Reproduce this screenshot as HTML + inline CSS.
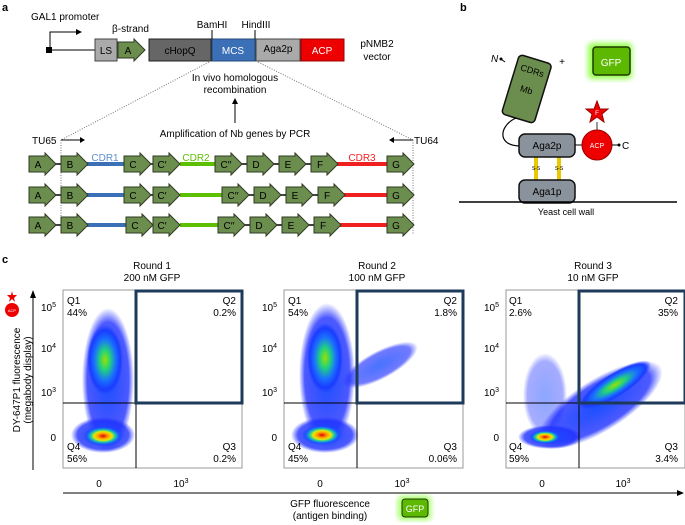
<!DOCTYPE html>
<html><head><meta charset="utf-8"><style>
body{margin:0;background:#fff}
svg{display:block;font-family:"Liberation Sans",sans-serif}
</style></head><body>
<svg width="685" height="525" viewBox="0 0 685 525" xmlns="http://www.w3.org/2000/svg">
<defs>
<g id="arr"><path d="M0,-8 H16 V-11 L27,0 L16,11 V8 H0 Z" fill="#6b8e4e" stroke="#2e3a22" stroke-width="1"/></g>
<radialGradient id="hot" cx="50%" cy="50%" r="50%">
<stop offset="0" stop-color="#e00000"/><stop offset="0.25" stop-color="#ff9900"/><stop offset="0.45" stop-color="#e8e800"/><stop offset="0.6" stop-color="#20d0a0"/><stop offset="0.8" stop-color="#1a5cff"/><stop offset="1" stop-color="#1a3cff" stop-opacity="0"/></radialGradient>
<radialGradient id="grn" cx="50%" cy="50%" r="50%">
<stop offset="0" stop-color="#9ae000"/><stop offset="0.3" stop-color="#20d080"/><stop offset="0.6" stop-color="#1a70ff"/><stop offset="0.85" stop-color="#1a3cff"/><stop offset="1" stop-color="#1a3cff" stop-opacity="0"/></radialGradient>
<radialGradient id="blu" cx="50%" cy="50%" r="50%">
<stop offset="0" stop-color="#1a50ff"/><stop offset="0.8" stop-color="#2030ff" stop-opacity="0.8"/><stop offset="1" stop-color="#2030ff" stop-opacity="0"/></radialGradient>
<filter id="glow"><feGaussianBlur stdDeviation="3"/></filter>
</defs>

<!-- panel a -->
<text x="2" y="11" font-size="11" font-weight="bold">a</text>
<text x="31" y="20" font-size="10">GAL1 promoter</text>
<text x="112" y="32" font-size="10">β-strand</text>
<line x1="50" y1="50" x2="95" y2="50" stroke="#000"/>
<rect x="46" y="47" width="6" height="6"/>
<path d="M50,50 V32 H80" fill="none" stroke="#000"/><path d="M76,29 L82,32 L76,35 Z"/>
<rect x="95" y="39" width="22" height="22" fill="#aaa" stroke="#444"/><text x="106" y="54" font-size="10" text-anchor="middle">LS</text>
<use href="#arr" x="118" y="50"/><text x="128" y="54" font-size="10" text-anchor="middle">A</text>
<rect x="149" y="39" width="62" height="22" fill="#666" stroke="#222"/><text x="180" y="54" font-size="10" text-anchor="middle">cHopQ</text>
<rect x="212" y="39" width="43" height="22" fill="#3b6fb6" stroke="#24487a"/><text x="233" y="54" font-size="10" text-anchor="middle" fill="#fff">MCS</text>
<rect x="256" y="39" width="44" height="22" fill="#aaa" stroke="#444"/><text x="278" y="52" font-size="10" text-anchor="middle">Aga2p</text>
<rect x="301" y="39" width="43" height="22" fill="#e00" stroke="#900"/><text x="322" y="54" font-size="10" text-anchor="middle" fill="#fff">ACP</text>
<text x="377" y="47" font-size="10" text-anchor="middle">pNMB2</text><text x="377" y="60" font-size="10" text-anchor="middle">vector</text>
<line x1="212" y1="30" x2="212" y2="39" stroke="#000"/><text x="212" y="28" font-size="10" text-anchor="middle">BamHI</text>
<line x1="255" y1="30" x2="255" y2="39" stroke="#000"/><text x="256" y="28" font-size="10" text-anchor="middle">HindIII</text>
<line x1="211" y1="61" x2="61" y2="140" stroke="#777" stroke-dasharray="1,1.5"/>
<line x1="256" y1="61" x2="413" y2="140" stroke="#777" stroke-dasharray="1,1.5"/>
<text x="235" y="81" font-size="10" text-anchor="middle">In vivo homologous</text><text x="235" y="93" font-size="10" text-anchor="middle">recombination</text>
<line x1="235" y1="123" x2="235" y2="101" stroke="#000"/><path d="M232,104 L235,98 L238,104Z"/>
<text x="235" y="137" font-size="10" text-anchor="middle">Amplification of Nb genes by PCR</text>
<text x="32" y="144" font-size="10">TU65</text><text x="414" y="144" font-size="10">TU64</text>
<line x1="61" y1="140" x2="82" y2="140" stroke="#000"/><path d="M80,137 L85,140 L80,143Z"/>
<line x1="392" y1="140" x2="413" y2="140" stroke="#000"/><path d="M394,137 L389,140 L394,143Z"/>
<line x1="61" y1="140" x2="61" y2="235" stroke="#777" stroke-dasharray="1,1.5"/>
<line x1="413" y1="140" x2="413" y2="235" stroke="#777" stroke-dasharray="1,1.5"/>
<text x="105" y="161" font-size="10" fill="#5b8fd0" text-anchor="middle">CDR1</text>
<text x="196" y="161" font-size="10" fill="#5cc000" text-anchor="middle">CDR2</text>
<text x="362" y="161" font-size="10" fill="#f02020" text-anchor="middle">CDR3</text>
<g font-size="10" text-anchor="middle">
<!-- row1 -->
<g transform="translate(0,164)">
<line x1="40" y1="0" x2="400" y2="0" stroke="#000" stroke-width="1.5"/>
<line x1="87" y1="0" x2="124" y2="0" stroke="#3b6fb6" stroke-width="4"/>
<line x1="180" y1="0" x2="215" y2="0" stroke="#5cc000" stroke-width="4"/>
<line x1="337" y1="0" x2="387" y2="0" stroke="#f02020" stroke-width="4"/>
<use href="#arr" x="29"/><text x="38" y="4">A</text>
<use href="#arr" x="61"/><text x="70" y="4">B</text>
<use href="#arr" x="124"/><text x="133" y="4">C</text>
<use href="#arr" x="153"/><text x="162" y="4">C′</text>
<use href="#arr" x="215"/><text x="226" y="4">C′′</text>
<use href="#arr" x="247"/><text x="256" y="4">D</text>
<use href="#arr" x="279"/><text x="288" y="4">E</text>
<use href="#arr" x="311"/><text x="320" y="4">F</text>
<use href="#arr" x="387"/><text x="396" y="4">G</text>
</g>
<g transform="translate(0,195)">
<line x1="40" y1="0" x2="400" y2="0" stroke="#000" stroke-width="1.5"/>
<line x1="87" y1="0" x2="124" y2="0" stroke="#3b6fb6" stroke-width="4"/>
<line x1="180" y1="0" x2="222" y2="0" stroke="#5cc000" stroke-width="4"/>
<line x1="344" y1="0" x2="387" y2="0" stroke="#f02020" stroke-width="4"/>
<use href="#arr" x="29"/><text x="38" y="4">A</text>
<use href="#arr" x="61"/><text x="70" y="4">B</text>
<use href="#arr" x="124"/><text x="133" y="4">C</text>
<use href="#arr" x="153"/><text x="162" y="4">C′</text>
<use href="#arr" x="222"/><text x="233" y="4">C′′</text>
<use href="#arr" x="254"/><text x="263" y="4">D</text>
<use href="#arr" x="286"/><text x="295" y="4">E</text>
<use href="#arr" x="318"/><text x="327" y="4">F</text>
<use href="#arr" x="387"/><text x="396" y="4">G</text>
</g>
<g transform="translate(0,225)">
<line x1="40" y1="0" x2="400" y2="0" stroke="#000" stroke-width="1.5"/>
<line x1="87" y1="0" x2="126" y2="0" stroke="#3b6fb6" stroke-width="4"/>
<line x1="180" y1="0" x2="218" y2="0" stroke="#5cc000" stroke-width="4"/>
<line x1="340" y1="0" x2="387" y2="0" stroke="#f02020" stroke-width="4"/>
<use href="#arr" x="29"/><text x="38" y="4">A</text>
<use href="#arr" x="61"/><text x="70" y="4">B</text>
<use href="#arr" x="126"/><text x="135" y="4">C</text>
<use href="#arr" x="153"/><text x="162" y="4">C′</text>
<use href="#arr" x="218"/><text x="229" y="4">C′′</text>
<use href="#arr" x="250"/><text x="259" y="4">D</text>
<use href="#arr" x="282"/><text x="291" y="4">E</text>
<use href="#arr" x="314"/><text x="323" y="4">F</text>
<use href="#arr" x="387"/><text x="396" y="4">G</text>
</g>
</g>

<!-- panel b -->
<text x="460" y="11" font-size="11" font-weight="bold">b</text>
<rect x="588" y="43" width="44" height="36" rx="4" fill="#6f0" filter="url(#glow)" opacity="0.7"/>
<rect x="593" y="47" width="37" height="28" rx="3" fill="#5cb800" stroke="#1f3a00" stroke-width="1.5"/>
<text x="611" y="66" font-size="10" fill="#fff" text-anchor="middle">GFP</text>
<text x="562" y="65" font-size="10" text-anchor="middle">+</text>
<g transform="translate(527,88) rotate(17)">
<rect x="-17" y="-30" width="34" height="62" rx="4" fill="#6b8e4e" stroke="#111" stroke-width="1.5"/>
<text x="0" y="-15" font-size="9" text-anchor="middle">CDRs</text><text x="0" y="5" font-size="9" text-anchor="middle">Mb</text>
</g>
<circle cx="501" cy="59" r="1.5"/><text x="491" y="62" font-size="10" font-style="italic">N</text>
<line x1="501" y1="59" x2="505" y2="62" stroke="#000"/>
<path d="M516,118 C500,125 496,145 519,146" fill="none" stroke="#000" stroke-width="1.2"/>
<rect x="534" y="156" width="4" height="24" fill="#e8c800"/><rect x="557" y="156" width="4" height="24" fill="#e8c800"/>
<text x="536" y="170" font-size="5" text-anchor="middle">S-S</text><text x="559" y="170" font-size="5" text-anchor="middle">S-S</text>
<rect x="519" y="134" width="56" height="23" rx="6" fill="#8a929c" stroke="#111" stroke-width="1.5"/>
<text x="547" y="149" font-size="10" text-anchor="middle">Aga2p</text>
<line x1="575" y1="145" x2="583" y2="145" stroke="#000"/>
<line x1="597" y1="130" x2="597" y2="122" stroke="#999" stroke-width="2"/>
<path d="M597,101 L600,109 L608,109 L602,114 L604,122 L597,117 L590,122 L592,114 L586,109 L594,109Z" fill="#e00" stroke="#900"/>
<text x="597" y="115" font-size="6" fill="#fff" text-anchor="middle">F</text>
<circle cx="597" cy="145" r="15" fill="#e00" stroke="#900"/><text x="597" y="148" font-size="7" fill="#fff" text-anchor="middle">ACP</text>
<line x1="612" y1="145" x2="619" y2="145" stroke="#000"/><circle cx="619" cy="145" r="1.5"/><text x="622" y="149" font-size="10">C</text>
<rect x="519" y="180" width="56" height="23" rx="6" fill="#8a929c" stroke="#111" stroke-width="1.5"/>
<text x="547" y="195" font-size="10" text-anchor="middle">Aga1p</text>
<line x1="459" y1="202" x2="677" y2="202" stroke="#000" stroke-width="1.5"/>
<text x="566" y="215" font-size="9" text-anchor="middle">Yeast cell wall</text>

<!-- panel c -->
<text x="2" y="263" font-size="11" font-weight="bold">c</text>
<path d="M12,291 L13,295 L17,295 L14,298 L15,302 L12,299 L9,302 L10,298 L7,295 L11,295Z" fill="#e00"/>
<circle cx="12" cy="310" r="7" fill="#e00"/><text x="12" y="312" font-size="4" fill="#fff" text-anchor="middle">ACP</text>
<line x1="33" y1="470" x2="33" y2="296" stroke="#000"/><path d="M30,298 L33,290 L36,298Z"/>
<text transform="translate(20,380) rotate(-90)" font-size="10" text-anchor="middle">DY-647P1 fluorescence</text>
<text transform="translate(31,380) rotate(-90)" font-size="10" text-anchor="middle">(megabody display)</text>
<line x1="63" y1="493" x2="680" y2="493" stroke="#000"/><path d="M677,490 L684,493 L677,496Z"/>
<text x="330" y="507" font-size="10" text-anchor="middle">GFP fluorescence</text>
<text x="330" y="519" font-size="10" text-anchor="middle">(antigen binding)</text>
<rect x="398" y="496" width="33" height="24" rx="4" fill="#6f0" filter="url(#glow)" opacity="0.6"/>
<rect x="402" y="499" width="26" height="18" rx="3" fill="#5cb800" stroke="#1f3a00"/>
<text x="415" y="512" font-size="9" fill="#fff" text-anchor="middle">GFP</text>

<!-- plot 1 -->
<g font-size="10">
<text x="152" y="269" text-anchor="middle">Round 1</text><text x="152" y="281" text-anchor="middle">200 nM GFP</text>
<rect x="63" y="290" width="179" height="178" fill="#fff" stroke="#999"/>
<ellipse cx="108" cy="380" rx="26" ry="72" fill="url(#blu)"/>
<ellipse cx="103" cy="435" rx="32" ry="18" fill="url(#blu)"/>
<ellipse cx="105" cy="360" rx="18" ry="35" fill="url(#grn)"/>
<ellipse cx="103" cy="436" rx="20" ry="10" fill="url(#hot)"/>
<line x1="63" y1="403" x2="136" y2="403" stroke="#000"/><line x1="136" y1="403" x2="136" y2="468" stroke="#000"/>
<rect x="136" y="291" width="106" height="112" fill="none" stroke="#1e3a5a" stroke-width="3"/>
<text x="67" y="304">Q1</text><text x="67" y="316">44%</text>
<text x="236" y="304" text-anchor="end">Q2</text><text x="236" y="316" text-anchor="end">0.2%</text>
<text x="67" y="450">Q4</text><text x="67" y="462">56%</text>
<text x="236" y="450" text-anchor="end">Q3</text><text x="236" y="462" text-anchor="end">0.2%</text>
<text x="56" y="311" text-anchor="end">10<tspan font-size="7" dy="-4">5</tspan></text>
<text x="56" y="352" text-anchor="end">10<tspan font-size="7" dy="-4">4</tspan></text>
<text x="56" y="396" text-anchor="end">10<tspan font-size="7" dy="-4">3</tspan></text>
<text x="56" y="441" text-anchor="end">0</text>
<text x="99" y="487" text-anchor="middle">0</text><text x="181" y="487" text-anchor="middle">10<tspan font-size="7" dy="-4">3</tspan></text>
</g>
<!-- plot 2 -->
<g font-size="10">
<text x="377" y="269" text-anchor="middle">Round 2</text><text x="377" y="281" text-anchor="middle">100 nM GFP</text>
<rect x="284" y="290" width="179" height="178" fill="#fff" stroke="#999"/>
<ellipse cx="327" cy="375" rx="28" ry="72" fill="url(#blu)"/>
<ellipse cx="325" cy="435" rx="34" ry="18" fill="url(#blu)"/>
<ellipse cx="380" cy="365" rx="42" ry="14" transform="rotate(-28 380 365)" fill="url(#blu)" opacity="0.8"/>
<ellipse cx="325" cy="358" rx="18" ry="35" fill="url(#grn)"/>
<ellipse cx="322" cy="435" rx="20" ry="10" fill="url(#hot)"/>
<line x1="284" y1="403" x2="357" y2="403" stroke="#000"/><line x1="357" y1="403" x2="357" y2="468" stroke="#000"/>
<rect x="357" y="291" width="106" height="112" fill="none" stroke="#1e3a5a" stroke-width="3"/>
<text x="288" y="304">Q1</text><text x="288" y="316">54%</text>
<text x="457" y="304" text-anchor="end">Q2</text><text x="457" y="316" text-anchor="end">1.8%</text>
<text x="288" y="450">Q4</text><text x="288" y="462">45%</text>
<text x="457" y="450" text-anchor="end">Q3</text><text x="457" y="462" text-anchor="end">0.06%</text>
<text x="277" y="311" text-anchor="end">10<tspan font-size="7" dy="-4">5</tspan></text>
<text x="277" y="352" text-anchor="end">10<tspan font-size="7" dy="-4">4</tspan></text>
<text x="277" y="396" text-anchor="end">10<tspan font-size="7" dy="-4">3</tspan></text>
<text x="277" y="441" text-anchor="end">0</text>
<text x="320" y="487" text-anchor="middle">0</text><text x="402" y="487" text-anchor="middle">10<tspan font-size="7" dy="-4">3</tspan></text>
</g>
<!-- plot 3 -->
<g font-size="10">
<text x="593" y="269" text-anchor="middle">Round 3</text><text x="593" y="281" text-anchor="middle">10 nM GFP</text>
<rect x="506" y="290" width="179" height="178" fill="#fff" stroke="#999"/>
<ellipse cx="545" cy="395" rx="22" ry="42" fill="url(#blu)" opacity="0.5"/>
<ellipse cx="600" cy="405" rx="72" ry="26" transform="rotate(-32 600 405)" fill="url(#blu)"/>
<ellipse cx="615" cy="385" rx="42" ry="12" transform="rotate(-32 615 385)" fill="url(#grn)"/>
<ellipse cx="550" cy="437" rx="32" ry="12" fill="url(#blu)"/>
<ellipse cx="545" cy="437" rx="16" ry="7" fill="url(#hot)"/>
<line x1="506" y1="403" x2="579" y2="403" stroke="#000"/><line x1="579" y1="403" x2="579" y2="468" stroke="#000"/>
<rect x="579" y="291" width="106" height="112" fill="none" stroke="#1e3a5a" stroke-width="3"/>
<text x="509" y="304">Q1</text><text x="509" y="316">2.6%</text>
<text x="678" y="304" text-anchor="end">Q2</text><text x="678" y="316" text-anchor="end">35%</text>
<text x="509" y="450">Q4</text><text x="509" y="462">59%</text>
<text x="678" y="450" text-anchor="end">Q3</text><text x="678" y="462" text-anchor="end">3.4%</text>
<text x="499" y="311" text-anchor="end">10<tspan font-size="7" dy="-4">5</tspan></text>
<text x="499" y="352" text-anchor="end">10<tspan font-size="7" dy="-4">4</tspan></text>
<text x="499" y="396" text-anchor="end">10<tspan font-size="7" dy="-4">3</tspan></text>
<text x="499" y="441" text-anchor="end">0</text>
<text x="542" y="487" text-anchor="middle">0</text><text x="623" y="487" text-anchor="middle">10<tspan font-size="7" dy="-4">3</tspan></text>
</g>
</svg>
</body></html>
